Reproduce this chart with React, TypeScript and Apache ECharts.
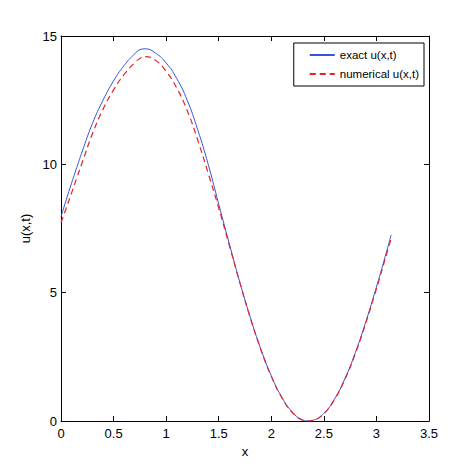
import React, { useEffect, useRef } from "react";
import * as echarts from "echarts";

const xValues = [0, 0.05, 0.1, 0.15, 0.2, 0.3, 0.4, 0.5, 0.6, 0.7, 0.76, 0.8, 0.9, 1.0, 1.1, 1.2, 1.3, 1.4, 1.5, 1.6, 1.7, 1.8, 1.9, 2.0, 2.1, 2.2, 2.3, 2.35, 2.4, 2.5, 2.6, 2.7, 2.8, 2.9, 3.0, 3.1, 3.14];
const exactValues = [7.96, 8.62, 9.26, 9.88, 10.48, 11.6, 12.5, 13.25, 13.85, 14.3, 14.48, 14.5, 14.33, 13.95, 13.35, 12.5, 11.35, 10.0, 8.45, 6.92, 5.42, 4.04, 2.81, 1.76, 0.93, 0.35, 0.04, 0.0, 0.03, 0.3, 0.85, 1.65, 2.67, 3.88, 5.22, 6.65, 7.25];
const numericalValues = [7.73, 8.3, 8.88, 9.47, 10.05, 11.2, 12.15, 12.9, 13.5, 13.95, 14.15, 14.2, 14.05, 13.62, 12.98, 12.1, 10.95, 9.65, 8.3, 6.85, 5.4, 4.02, 2.79, 1.74, 0.91, 0.33, 0.03, 0.0, 0.03, 0.29, 0.83, 1.62, 2.63, 3.83, 5.15, 6.55, 7.1];
const xTicks = { min: 0, max: 3.5, interval: 0.5 };
const yTicks = { min: 0, max: 15, interval: 5 };
const seriesNames = ["exact u(x,t)", "numerical u(x,t)"];

const FONT = "'Liberation Sans Narrow', 'Liberation Sans', Arial, sans-serif";

export default function App() {
  const ref = useRef<HTMLDivElement>(null);
  useEffect(() => {
    if (!ref.current) return;
    const chart = echarts.init(ref.current, undefined, { renderer: "svg" });
    const exact = xValues.map((x, i) => [x, exactValues[i]]);
    const numerical = xValues.map((x, i) => [x, numericalValues[i]]);
    const axisLine = { show: true, onZero: false, lineStyle: { color: "#000", width: 1 } };
    const tick = { show: true, inside: true, length: 5, lineStyle: { color: "#000" } };
    chart.setOption({
      animation: false,
      backgroundColor: "#fff",
      grid: { left: 61, right: 45, top: 36, bottom: 53 },
      legend: {
        orient: "vertical",
        right: 50,
        top: 43,
        padding: [6, 5, 6, 15],
        itemGap: 7,
        itemWidth: 25,
        itemHeight: 12,
        borderColor: "#000",
        borderWidth: 1,
        backgroundColor: "#fff",
        itemStyle: { opacity: 0 },
        textStyle: { fontSize: 11.5, color: "#000", fontFamily: FONT },
        data: seriesNames,
      },
      xAxis: [
        {
          type: "value",
          min: xTicks.min,
          max: xTicks.max,
          interval: xTicks.interval,
          name: "x",
          nameLocation: "middle",
          nameGap: 24,
          nameTextStyle: { fontSize: 13, color: "#000", fontFamily: FONT },
          axisLine,
          axisTick: tick,
          axisLabel: { color: "#000", fontSize: 13, fontFamily: FONT, margin: 6 },
          splitLine: { show: false },
        },
        {
          type: "value",
          position: "top",
          min: xTicks.min,
          max: xTicks.max,
          interval: xTicks.interval,
          axisLine,
          axisTick: tick,
          axisLabel: { show: false },
          splitLine: { show: false },
        },
      ],
      yAxis: [
        {
          type: "value",
          min: yTicks.min,
          max: yTicks.max,
          interval: yTicks.interval,
          name: "u(x,t)",
          nameLocation: "middle",
          nameGap: 19,
          nameTextStyle: { fontSize: 13, color: "#000", fontFamily: FONT },
          axisLine,
          axisTick: tick,
          axisLabel: { color: "#000", fontSize: 13, fontFamily: FONT, margin: 4 },
          splitLine: { show: false },
        },
        {
          type: "value",
          position: "right",
          min: yTicks.min,
          max: yTicks.max,
          interval: yTicks.interval,
          axisLine,
          axisTick: tick,
          axisLabel: { show: false },
          splitLine: { show: false },
        },
      ],
      series: [
        {
          name: seriesNames[0],
          type: "line",
          data: exact,
          smooth: 0.5,
          showSymbol: false,
          symbol: "none",
          itemStyle: { color: "#3556da" },
          lineStyle: { color: "#3556da", width: 1 },
        },
        {
          name: seriesNames[1],
          type: "line",
          data: numerical,
          smooth: 0.5,
          showSymbol: false,
          symbol: "none",
          itemStyle: { color: "#e8202a" },
          lineStyle: { color: "#e8202a", width: 1.2, type: [6, 4] },
        },
      ],
    });
    return () => chart.dispose();
  }, []);
  return <div ref={ref} style={{ width: 474, height: 474, position: "absolute", left: 0, top: 0 }} />;
}
